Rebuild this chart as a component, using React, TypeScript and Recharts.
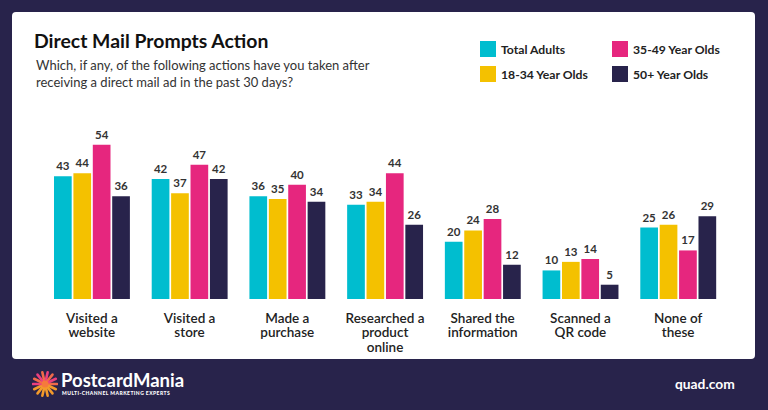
import React from 'react';
import { BarChart, Bar, XAxis, YAxis, LabelList } from 'recharts';

const categories = [
  'Visited a\nwebsite',
  'Visited a\nstore',
  'Made a\npurchase',
  'Researched a\nproduct\nonline',
  'Shared the\ninformation',
  'Scanned a\nQR code',
  'None of\nthese',
];
const totalAdults = [43, 42, 36, 33, 20, 10, 25];
const age18to34 = [44, 37, 35, 34, 24, 13, 26];
const age35to49 = [54, 47, 40, 44, 28, 14, 17];
const age50plus = [36, 42, 34, 26, 12, 5, 29];

const NAVY = '#28234b';
const TEAL = '#00bdcf';
const YELLOW = '#f4c100';
const PINK = '#e6267e';
const FONT = 'Lato, "Noto Sans", sans-serif';

const series = [
  { key: 'total', name: 'Total Adults', color: TEAL },
  { key: 'a18', name: '18-34 Year Olds', color: YELLOW },
  { key: 'a35', name: '35-49 Year Olds', color: PINK },
  { key: 'a50', name: '50+ Year Olds', color: NAVY },
];

const data = categories.map((c, i) => ({
  category: c,
  total: totalAdults[i],
  a18: age18to34[i],
  a35: age35to49[i],
  a50: age50plus[i],
}));

function CategoryTick(props: any) {
  const { x, y, payload } = props;
  const lines = String(payload.value).split('\n');
  return (
    <text x={x} y={y} textAnchor="middle" fill="#222" fontSize={13.5} fontWeight={600} fontFamily={FONT}>
      {lines.map((l, i) => (
        <tspan key={i} x={x} dy={i === 0 ? 15.5 : 14.7}>
          {l}
        </tspan>
      ))}
    </text>
  );
}

function Sunburst() {
  const petals = Array.from({ length: 14 }, (_, i) => i);
  return (
    <svg width={26} height={28} style={{ position: 'absolute', left: 32, top: 370 }}>
      {petals.map((i) => {
        const a = (i / 14) * Math.PI * 2;
        const cx = 13, cy = 14;
        const col = Math.sin(a) > 0.2 ? '#f39a2b' : i % 2 ? '#ec3f7d' : '#f06a4a';
        return (
          <line
            key={i}
            x1={cx + Math.cos(a) * 4}
            y1={cy + Math.sin(a) * 4}
            x2={cx + Math.cos(a) * 12}
            y2={cy + Math.sin(a) * 12}
            stroke={col}
            strokeWidth={2.6}
            strokeLinecap="round"
          />
        );
      })}
      <circle cx={13} cy={14} r={3.5} fill="#f57a3c" />
    </svg>
  );
}

export default function App() {
  const legendPos = [
    { left: 480, top: 41 },
    { left: 480, top: 66 },
    { left: 612, top: 41 },
    { left: 612, top: 66 },
  ];
  return (
    <div
      style={{
        position: 'fixed',
        left: 0,
        top: 0,
        width: 768,
        height: 410,
        background: NAVY,
        fontFamily: FONT,
        overflow: 'hidden',
      }}
    >
      <div
        style={{
          position: 'absolute',
          left: 12,
          top: 12,
          width: 743,
          height: 347,
          background: '#fff',
          borderRadius: 4,
        }}
      />
      <div style={{ position: 'absolute', left: 34, top: 29, fontSize: 19.4, fontWeight: 700, color: '#111', whiteSpace: 'nowrap' }}>
        Direct Mail Prompts Action
      </div>
      <div style={{ position: 'absolute', left: 36, top: 57, fontSize: 13, lineHeight: '17px', color: '#333', whiteSpace: 'nowrap' }}>
        Which, if any, of the following actions have you taken after
        <br />
        receiving a direct mail ad in the past 30 days?
      </div>
      {series.map((s, i) => (
        <div key={s.key} style={{ position: 'absolute', left: legendPos[i].left, top: legendPos[i].top, height: 16, display: 'flex', alignItems: 'center', whiteSpace: 'nowrap' }}>
          <div style={{ width: 16, height: 16, background: s.color }} />
          <span style={{ marginLeft: 5, fontSize: 12.2, fontWeight: 700, color: '#222' }}>{s.name}</span>
        </div>
      ))}
      <div style={{ position: 'absolute', left: 0, top: 0 }}>
        <BarChart
          width={768}
          height={410}
          data={data}
          margin={{ top: 127.6, right: 41, bottom: 61, left: 43 }}
          barSize={17.7}
          barGap={1.7}
        >
          <XAxis dataKey="category" axisLine={false} tickLine={false} interval={0} height={50} tick={<CategoryTick />} />
          <YAxis hide domain={[0, 60]} />
          {series.map((s) => (
            <Bar key={s.key} dataKey={s.key} name={s.name} fill={s.color} isAnimationActive={false}>
              <LabelList dataKey={s.key} position="top" offset={6} fill="#333" fontSize={11.5} fontWeight={700} fontFamily={FONT} />
            </Bar>
          ))}
        </BarChart>
      </div>
      <Sunburst />
      <div style={{ position: 'absolute', left: 61, top: 371, color: '#fff', fontSize: 18.5, fontWeight: 700, lineHeight: '18px', whiteSpace: 'nowrap' }}>
        PostcardMania
      </div>
      <div style={{ position: 'absolute', left: 62, top: 390, color: '#fff', fontSize: 5, lineHeight: '6px', fontWeight: 900, letterSpacing: 0.45, whiteSpace: 'nowrap' }}>
        MULTI-CHANNEL MARKETING EXPERTS
      </div>
      <div style={{ position: 'absolute', left: 675, top: 375, color: '#fff', fontSize: 13.8, fontWeight: 700, whiteSpace: 'nowrap' }}>
        quad.com
      </div>
    </div>
  );
}
